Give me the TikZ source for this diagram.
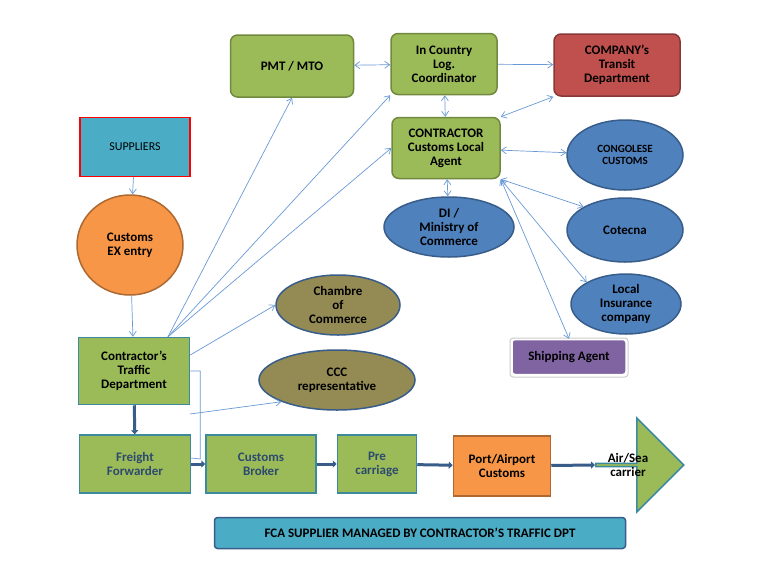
\documentclass[tikz,border=0pt]{standalone}
\usepackage{fontspec}
\setmainfont{Carlito}
\usetikzlibrary{shapes.geometric,shapes.arrows,arrows.meta}
\definecolor{grn}{HTML}{9BBB59}\definecolor{grnb}{HTML}{71893F}
\definecolor{bl}{HTML}{4F81BD}\definecolor{blb}{HTML}{385D8A}
\definecolor{ol}{HTML}{948A54}\definecolor{org}{HTML}{F79646}
\definecolor{cy}{HTML}{4BACC6}\definecolor{rd}{HTML}{C0504D}
\definecolor{pu}{HTML}{8064A2}\definecolor{ln}{HTML}{6A9AD6}
\begin{document}
\begin{tikzpicture}[x=1pt,y=-1pt,
 every node/.style={font=\bfseries\fontsize{13}{14}\selectfont,align=center,inner sep=1pt},
 gbox/.style={draw=grnb,fill=grn,line width=1.5pt,rounded corners=2pt,minimum width=#1},
 rbox/.style={line width=1.5pt,rounded corners=7pt},
 bell/.style={ellipse,draw=blb,fill=bl,line width=1.5pt},
 oell/.style={ellipse,draw=blb,fill=ol,line width=1.5pt},
 la/.style={draw=ln,line width=0.7pt,-{Straight Barb[length=5pt,width=7pt]}},
 lda/.style={la,{Straight Barb[length=5pt,width=7pt]}-{Straight Barb[length=5pt,width=7pt]}},
 ta/.style={draw=blb,line width=3pt,-{Triangle[length=4pt,width=7pt]}}]
\useasboundingbox (0,0) rectangle (768,576);
\fill[white] (0,0) rectangle (768,576);
\node[rbox,draw=grnb,fill=grn,minimum width=123pt,minimum height=62pt] (pmt) at (292,66) {PMT / MTO};
\node[rbox,draw=grnb,fill=grn,minimum width=106pt,minimum height=61pt] (icl) at (444,64) {In Country\\Log.\\Coordinator};
\node[rbox,draw=rd!70!black,fill=rd,minimum width=126pt,minimum height=62pt] (comp) at (617,65) {COMPANY's\\Transit\\Department};
\node[rbox,draw=grnb,fill=grn,minimum width=108pt,minimum height=61pt] (cla) at (446,148) {CONTRACTOR\\Customs Local\\Agent};
\node[bell,minimum width=116pt,minimum height=70pt,font=\bfseries\fontsize{11}{12}\selectfont] (cong) at (625,155) {CONGOLESE\\CUSTOMS};
\node[bell,minimum width=130pt,minimum height=60pt] (di) at (449,227) {DI /\\Ministry of\\Commerce};
\node[bell,minimum width=116pt,minimum height=64pt] (cot) at (625,230) {Cotecna};
\node[bell,minimum width=110pt,minimum height=60pt] (ins) at (626,304) {Local\\Insurance\\company};
\node[draw=white,line width=1.5pt,fill=pu,rounded corners=3pt,minimum width=114pt,minimum height=35pt] (ship) at (569,357) {Shipping Agent};
\draw[gray!40,line width=1pt,rounded corners=3pt] (510,338) rectangle (628,377);
\node[draw=red,line width=1.5pt,fill=cy,minimum width=110pt,minimum height=59pt,font=\fontsize{12}{13}\selectfont] (sup) at (135,147) {SUPPLIERS};
\node[ellipse,draw=org!70!black,fill=org,line width=1.5pt,minimum width=106pt,minimum height=100pt] (cex) at (130,245) {Customs\\EX entry};
\node[oell,minimum width=124pt,minimum height=60pt] (cham) at (338,305) {Chambre\\of\\Commerce};
\node[oell,minimum width=156pt,minimum height=60pt] (ccc) at (337,380) {CCC\\representative};
\node[draw=cy!80!black,fill=grn,line width=1.5pt,minimum width=111pt,minimum height=67pt] (ctd) at (134,371) {Contractor's\\Traffic\\Department};
\node[draw=cy!80!black,fill=grn,line width=1.5pt,minimum width=111pt,minimum height=58pt,text=blb!80!black] (ff) at (135,464) {Freight\\Forwarder};
\node[draw=cy!80!black,fill=grn,line width=1.5pt,minimum width=110pt,minimum height=58pt,text=blb!80!black] (cb) at (261,464) {Customs\\Broker};
\node[draw=cy!80!black,fill=grn,line width=1.5pt,minimum width=79pt,minimum height=58pt,text=blb!80!black] (pc) at (377,464) {Pre\\carriage};
\node[draw=org!70!black,fill=org,line width=1.5pt,minimum width=97pt,minimum height=60pt] (port) at (502,466) {Port/Airport\\Customs};
\node[single arrow,draw=cy!80!black,fill=grn,line width=1.5pt,minimum height=88pt,minimum width=94pt,single arrow head extend=22pt,single arrow tip angle=90,inner sep=0pt] (air) at (639,465) {};
\node at (628,465) {Air/Sea\\carrier};
\node[draw=blb,fill=cy,line width=1.5pt,rounded corners=3pt,minimum width=411pt,minimum height=31pt] (ban) at (420,533) {FCA SUPPLIER MANAGED BY CONTRACTOR'S TRAFFIC DPT};
% thin connectors
\draw[la] (sup) -- (cex);
\draw[la] (cex) -- (ctd);
\draw[la] (ctd.north)++(34,0) coordinate (t1) -- (pmt.south);
\draw[la] (t1) -- (icl.south west);
\draw[la] (t1) -- (cla.west);
\draw[la] (ctd.east)++(0,-16) -- (cham.west);
\draw[ln,line width=0.7pt] (ctd.east) -- ++(10,0) -- ++(0,88) -- (ff.east |- 0,458);
\coordinate (ccs) at (190,414);
\draw[la] (ccs) -- (ccc.south west);
\draw[lda] (pmt) -- (icl);
\draw[la] (icl) -- (comp);
\draw[lda] (icl) -- (cla);
\draw[lda] (cla.north east) -- (comp.south west);
\draw[lda] (cla) -- (cong);
\draw[lda] (cla) -- (di);
\draw[lda] (cla.south east) -- (cot.north west);
\draw[lda] (cla.south east) -- (ins.north west);
\draw[lda] (cla.south east) -- (ship.north);
% thick arrows
\draw[ta] (ctd) -- (ff);
\draw[ta] (ff) -- (cb);
\draw[ta] (cb) -- (pc);
\draw[ta] (pc) -- (port);
\draw[ta] (port) -- (air.tail);
\end{tikzpicture}
\end{document}
